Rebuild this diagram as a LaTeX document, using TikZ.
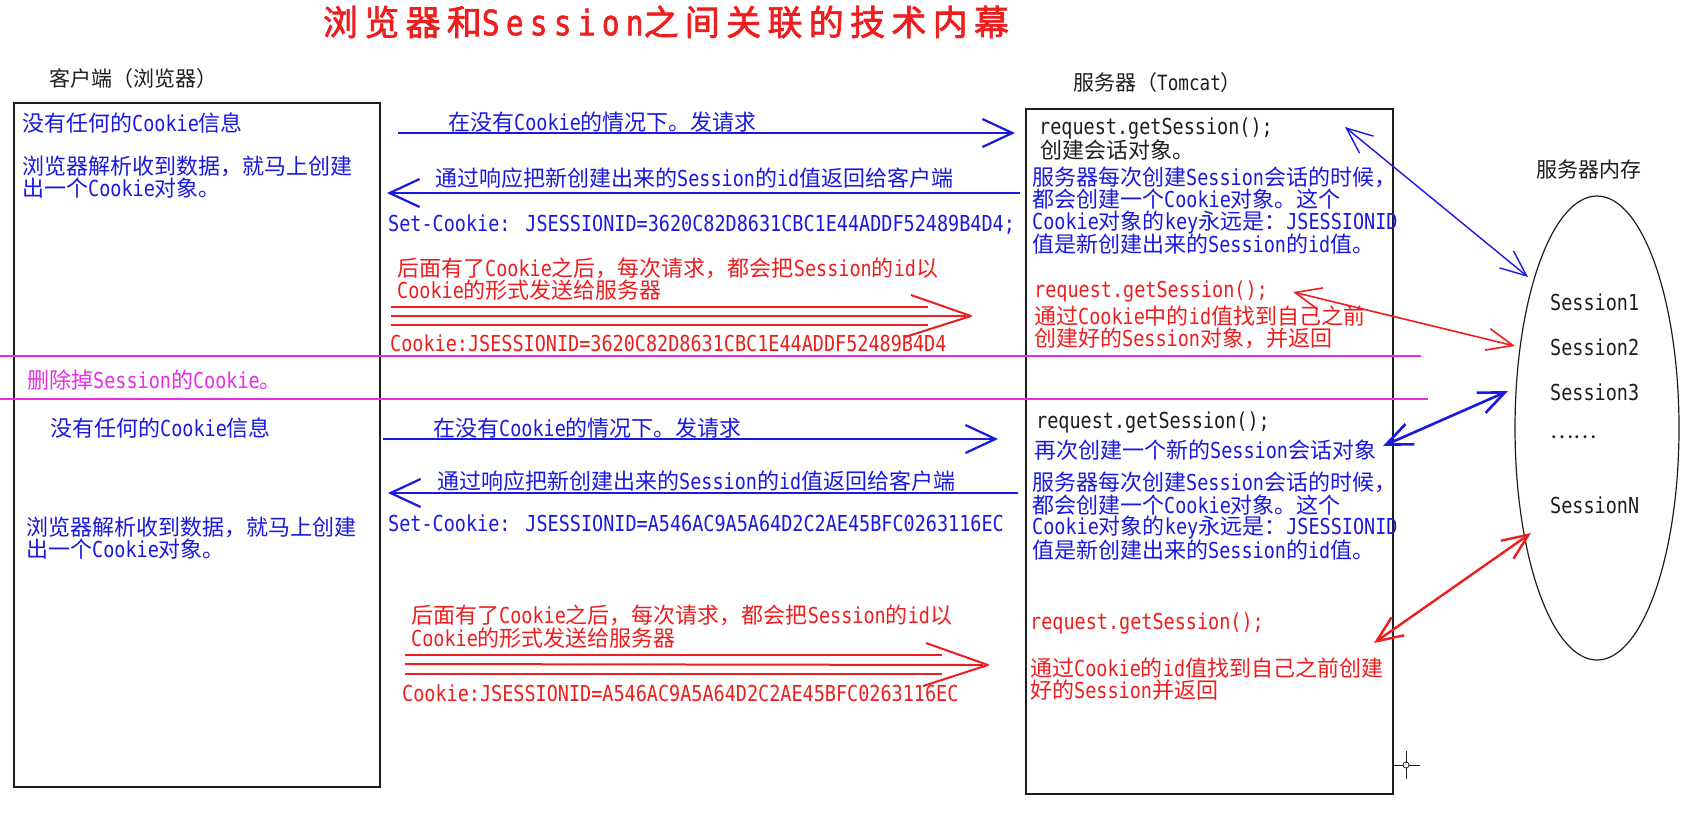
\documentclass[tikz,border=0pt]{standalone}
\usepackage{fontspec}
\setmainfont{Noto Sans CJK SC}
\newfontfamily\lat[FakeStretch=0.84]{DejaVu Sans Mono}
\newfontfamily\ttlcjk[LetterSpace=18,FakeBold=2]{Noto Sans CJK SC}
\newfontfamily\ttllat[LetterSpace=18,FakeStretch=0.84,FakeBold=1.5]{DejaVu Sans Mono}
\usetikzlibrary{arrows.meta,shapes.geometric}
\newcommand\E[1]{{\lat #1}}
\definecolor{tblue}{RGB}{25,25,225}
\definecolor{tred}{RGB}{238,30,30}
\definecolor{tmag}{RGB}{232,45,232}
\definecolor{tdark}{RGB}{30,30,30}
\tikzset{
  txt/.style={anchor=west, inner sep=0pt, font=\fontsize{22}{26}\selectfont},
  bt/.style={txt, text=tblue},
  rt/.style={txt, text=tred},
  kt/.style={txt, text=tdark},
  lbl/.style={anchor=west, inner sep=0pt, text=tdark, font=\fontsize{21}{24}\selectfont},
  panel/.style={draw=tdark, line width=2pt, anchor=north west, inner sep=0pt},
  blarr/.style={draw=tblue, line width=2.2pt, -{Straight Barb[length=30pt,width=28pt]}},
  redl/.style={draw=tred, line width=2pt, line join=round},
  dbl/.style={{Straight Barb[length=26pt,width=22pt]}-{Straight Barb[length=26pt,width=22pt]}},
  divider/.style={draw=tmag, line width=2.6pt},
}
\begin{document}
\begin{tikzpicture}[x=1pt,y=-1pt]
\fill[white] (0,0) rectangle (1699,815);
\useasboundingbox (0,0) rectangle (1699,815);

% title and headers
\node[inner sep=0pt, text=tred, font=\ttlcjk\fontsize{35}{40}\selectfont] (title) at (666,22) {浏览器和{\ttllat Session}之间关联的技术内幕};
\node[lbl] (clientlbl) at (49,79) {客户端（浏览器）};
\node[lbl] (serverlbl) at (1073,83) {服务器（\E{Tomcat}）};
\node[lbl] (memlbl) at (1536,170) {服务器内存};

% boxes
\node[panel, minimum width=366pt, minimum height=684pt] (client) at (13,102) {};
\node[panel, minimum width=367pt, minimum height=685pt] (server) at (1025,108) {};
\node[draw=tdark, line width=1.2pt, ellipse, minimum width=164pt, minimum height=464pt, inner sep=0pt] (memory) at (1597,428) {};

% dividers
\coordinate (m1a) at (0,356); \coordinate (m1b) at (1421,356);
\coordinate (m2a) at (0,399); \coordinate (m2b) at (1428,399);
\draw[divider] (m1a) -- (m1b);
\draw[divider] (m2a) -- (m2b);
\node[txt, text=tmag] (delck) at (27,380) {删除掉\E{Session}的\E{Cookie}。};

% client texts
\node[bt] (c1) at (22,123) {没有任何的\E{Cookie}信息};
\node[bt] (c2) at (22,166) {浏览器解析收到数据，就马上创建};
\node[bt] (c3) at (22,188) {出一个\E{Cookie}对象。};
\node[bt] (c4) at (50,428) {没有任何的\E{Cookie}信息};
\node[bt] (c5) at (26,527) {浏览器解析收到数据，就马上创建};
\node[bt] (c6) at (26,549) {出一个\E{Cookie}对象。};

% middle, upper part
\node[bt] (q1) at (448,122) {在没有\E{Cookie}的情况下。发请求};
\coordinate (a1s) at (398,133); \coordinate (a1e) at (1015,133);
\draw[blarr] (a1s) -- (a1e);
\node[bt] (q2) at (435,178) {通过响应把新创建出来的\E{Session}的\E{id}值返回给客户端};
\coordinate (a2s) at (1020,193); \coordinate (a2e) at (387,193);
\draw[blarr] (a2s) -- (a2e);
\node[bt] (sc1) at (388,225) {\E{Set-Cookie: JSESSIONID=3620C82D8631CBC1E44ADDF52489B4D4;}};
\node[rt] (h1) at (397,268) {后面有了\E{Cookie}之后，每次请求，都会把\E{Session}的\E{id}以};
\node[rt] (h2) at (397,290) {\E{Cookie}的形式发送给服务器};
\coordinate (r1s) at (391,316); \coordinate (r1t) at (971,316);
\draw[redl] (391,307) -- (928,307);
\draw[redl] (r1s) -- (966,316);
\draw[redl] (391,325) -- (928,325);
\draw[redl] (911,295) -- (r1t) -- (905,337);
\node[rt] (ck1) at (390,343) {\E{Cookie:JSESSIONID=3620C82D8631CBC1E44ADDF52489B4D4}};

% middle, lower part
\node[bt] (q3) at (433,428) {在没有\E{Cookie}的情况下。发请求};
\coordinate (a3s) at (383,439); \coordinate (a3e) at (998,439);
\draw[blarr] (a3s) -- (a3e);
\node[bt] (q4) at (437,481) {通过响应把新创建出来的\E{Session}的\E{id}值返回给客户端};
\coordinate (a4s) at (1018,493); \coordinate (a4e) at (388,493);
\draw[blarr] (a4s) -- (a4e);
\node[bt] (sc2) at (388,523) {\E{Set-Cookie: JSESSIONID=A546AC9A5A64D2C2AE45BFC0263116EC}};
\node[rt] (h3) at (411,615) {后面有了\E{Cookie}之后，每次请求，都会把\E{Session}的\E{id}以};
\node[rt] (h4) at (411,638) {\E{Cookie}的形式发送给服务器};
\coordinate (r2s) at (405,664); \coordinate (r2t) at (988,665);
\draw[redl] (405,655) -- (942,655);
\draw[redl] (r2s) -- (983,665);
\draw[redl] (405,674) -- (942,674);
\draw[redl] (926,643) -- (r2t) -- (923,686);
\node[rt] (ck2) at (402,693) {\E{Cookie:JSESSIONID=A546AC9A5A64D2C2AE45BFC0263116EC}};

% server, upper part
\node[kt] (s1) at (1039,128) {\E{request.getSession();}};
\node[kt] (s2) at (1040,150) {创建会话对象。};
\node[bt] (s3) at (1032,177) {服务器每次创建\E{Session}会话的时候，};
\node[bt] (s4) at (1032,199) {都会创建一个\E{Cookie}对象。这个};
\node[bt] (s5) at (1032,222) {\E{Cookie}对象的\E{key}永远是：\E{JSESSIONID}};
\node[bt] (s6) at (1032,244) {值是新创建出来的\E{Session}的\E{id}值。};
\node[rt] (s7) at (1034,291) {\E{request.getSession();}};
\node[rt] (s8) at (1034,316) {通过\E{Cookie}中的\E{id}值找到自己之前};
\node[rt] (s9) at (1034,338) {创建好的\E{Session}对象，并返回};

% server, lower part
\node[kt] (t1) at (1036,422) {\E{request.getSession();}};
\node[bt] (t2) at (1034,450) {再次创建一个新的\E{Session}会话对象};
\node[bt] (t3) at (1032,482) {服务器每次创建\E{Session}会话的时候，};
\node[bt] (t4) at (1032,505) {都会创建一个\E{Cookie}对象。这个};
\node[bt] (t5) at (1032,527) {\E{Cookie}对象的\E{key}永远是：\E{JSESSIONID}};
\node[bt] (t6) at (1032,550) {值是新创建出来的\E{Session}的\E{id}值。};
\node[rt] (t7) at (1030,623) {\E{request.getSession();}};
\node[rt] (t8) at (1030,668) {通过\E{Cookie}的\E{id}值找到自己之前创建};
\node[rt] (t9) at (1030,690) {好的\E{Session}并返回};

% memory contents
\node[kt] (ss1) at (1550,302) {\E{Session1}};
\node[kt] (ss2) at (1550,347) {\E{Session2}};
\node[kt] (ss3) at (1550,392) {\E{Session3}};
\node[kt] (ssd) at (1550,437) {……};
\node[kt] (ssn) at (1550,505) {\E{SessionN}};

% links between server and memory
\coordinate (b1a) at (1345,127); \coordinate (b1b) at (1528,277);
\draw[draw=tblue, line width=1.4pt, dbl] (b1a) -- (b1b);
\coordinate (e1a) at (1293,292); \coordinate (e1b) at (1515,346);
\draw[draw=tred, line width=1.6pt, dbl] (e1a) -- (e1b);
\coordinate (b2a) at (1383,446); \coordinate (b2b) at (1508,391);
\draw[draw=tblue, line width=2.6pt, dbl] (b2a) -- (b2b);
\coordinate (e2a) at (1374,643); \coordinate (e2b) at (1531,533);
\draw[draw=tred, line width=2.4pt, dbl] (e2a) -- (e2b);

% cursor
\coordinate (cur) at (1406,765);
\draw[tdark, line width=1pt] (cur) ++(-14,0) -- ++(28,0);
\draw[tdark, line width=1pt] (cur) ++(0,-14) -- ++(0,28);
\draw[tdark, line width=0.8pt, fill=white] (cur) circle (3pt);
\end{tikzpicture}
\end{document}
